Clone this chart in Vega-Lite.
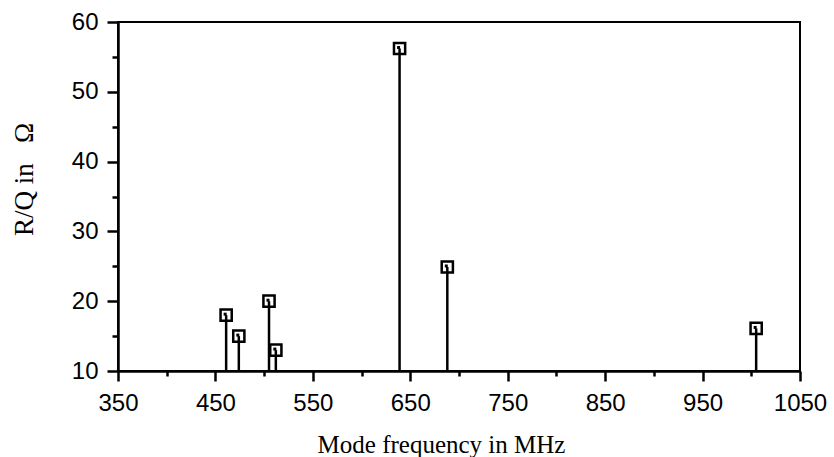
{
  "$schema": "https://vega.github.io/schema/vega-lite/v6.json",
  "width": 682,
  "height": 349,
  "autosize": "none",
  "padding": {"left": 118, "top": 22, "right": 34, "bottom": 86},
  "background": "white",
  "config": {
    "view": {"stroke": "black", "strokeWidth": 2},
    "axis": {
      "domainColor": "black",
      "domainWidth": 2.5,
      "tickColor": "black",
      "tickWidth": 2.5,
      "grid": false,
      "labelFont": "Liberation Sans",
      "labelFontSize": 24,
      "labelColor": "black",
      "labelFlush": false,
      "labelOverlap": false,
      "titleFont": "Liberation Serif",
      "titleFontWeight": "normal",
      "titleColor": "black"
    }
  },
  "data": {
    "values": [
      {"f": 461, "rq": 18.0},
      {"f": 474, "rq": 15.0},
      {"f": 505, "rq": 20.0},
      {"f": 512, "rq": 13.0},
      {"f": 639, "rq": 56.2},
      {"f": 688, "rq": 24.9},
      {"f": 1005, "rq": 16.1}
    ]
  },
  "layer": [
    {
      "mark": {"type": "rule", "color": "black", "strokeWidth": 2.5},
      "encoding": {
        "x": {
          "field": "f",
          "type": "quantitative",
          "scale": {"domain": [350, 1050], "nice": false, "zero": false},
          "axis": {
            "orient": "bottom",
            "values": [350, 450, 550, 650, 750, 850, 950, 1050],
            "format": "d",
            "tickSize": 10,
            "labelPadding": 10,
            "title": "Mode frequency in MHz",
            "titleFontSize": 25,
            "titleX": 323,
            "titleY": 81,
            "titleAlign": "center",
            "titleBaseline": "alphabetic"
          }
        },
        "y": {
          "field": "rq",
          "type": "quantitative",
          "scale": {"domain": [10, 60], "nice": false, "zero": false},
          "axis": {
            "orient": "left",
            "values": [10, 20, 30, 40, 50, 60],
            "format": "d",
            "tickSize": 11,
            "labelPadding": 9,
            "title": "R/Q in\u00a0\u00a0\u00a0Ω",
            "titleFontSize": 27,
            "titleAngle": -90,
            "titleX": -86,
            "titleY": 157,
            "titleAlign": "center",
            "titleBaseline": "alphabetic"
          }
        },
        "y2": {"datum": 10}
      }
    },
    {
      "mark": {"type": "point", "shape": "square", "size": 125, "filled": false, "stroke": "black", "strokeWidth": 2.5, "opacity": 1},
      "encoding": {
        "x": {
          "field": "f",
          "type": "quantitative",
          "axis": {
            "orient": "bottom",
            "values": [400, 500, 600, 700, 800, 900, 1000],
            "tickSize": 5,
            "labels": false,
            "domain": false,
            "title": null
          }
        },
        "y": {
          "field": "rq",
          "type": "quantitative",
          "axis": {
            "orient": "left",
            "values": [15, 25, 35, 45, 55],
            "tickSize": 6,
            "labels": false,
            "domain": false,
            "title": null
          }
        }
      }
    },
    {
      "mark": {"type": "square", "size": 9, "color": "black", "opacity": 1, "xOffset": -1, "yOffset": -1},
      "encoding": {
        "x": {"field": "f", "type": "quantitative", "axis": null},
        "y": {"field": "rq", "type": "quantitative", "axis": null}
      }
    }
  ],
  "resolve": {"axis": {"x": "independent", "y": "independent"}}
}
